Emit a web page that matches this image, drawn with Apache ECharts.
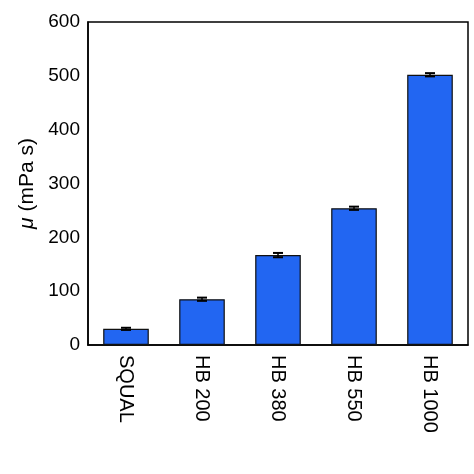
<!DOCTYPE html><html><head><meta charset="utf-8"><script src="https://cdn.jsdelivr.net/npm/echarts@6/dist/echarts.min.js"></script></head><body style="margin:0"><div id="c" style="width:474px;height:474px"></div><script>
const categories=['SQUAL','HB 200','HB 380','HB 550','HB 1000'];
const values=[30,85,167,254,502];
const errors=[2,3,4,3,3];
const yTicks=[0,100,200,300,400,500,600];
const ch=echarts.init(document.getElementById('c'));
const F='Liberation Sans';
ch.setOption({animation:false,
grid:{left:88,right:6,top:22,bottom:129,show:true,borderColor:'#000',borderWidth:1.5,backgroundColor:'transparent'},
xAxis:{type:'category',data:categories,axisLine:{lineStyle:{color:'#000',width:1.5}},
 axisTick:{inside:true,length:8,lineStyle:{color:'#000',width:1.5}},
 axisLabel:{rotate:-90,color:'#000',fontSize:20,fontFamily:F,margin:10}},
yAxis:[{type:'value',min:0,max:600,interval:100,
 axisLine:{show:true,lineStyle:{color:'#000',width:1.5}},
 axisTick:{inside:true,length:8,lineStyle:{color:'#000',width:1.5}},
 splitLine:{show:false},
 axisLabel:{color:'#000',fontSize:19,fontFamily:F,formatter:v=>yTicks.includes(v)?String(v):''},
 name:'{i|μ} (mPa s)',nameLocation:'middle',nameGap:50,
 nameTextStyle:{color:'#000',fontSize:21,fontFamily:F,rich:{i:{fontStyle:'italic',fontSize:21,fontFamily:F}}}},
{type:'value',min:0,max:600,interval:20,position:'left',axisLine:{show:false},
 axisTick:{inside:true,length:4,lineStyle:{color:'#000',width:1.2}},axisLabel:{show:false},splitLine:{show:false}}],
series:[{type:'bar',data:values,barWidth:'60%',itemStyle:{color:'#2266f2',borderColor:'#111',borderWidth:1.2}},
{type:'custom',data:values.map((v,i)=>[i,v-errors[i],v+errors[i]]),z:10,
 renderItem:(p,api)=>{const lo=api.coord([api.value(0),api.value(1)]),hi=api.coord([api.value(0),api.value(2)]);
 return {type:'group',children:[
 {type:'line',shape:{x1:lo[0],y1:lo[1],x2:hi[0],y2:hi[1]},style:{stroke:'#000',lineWidth:1.5}},
 {type:'line',shape:{x1:lo[0]-5,y1:lo[1],x2:lo[0]+5,y2:lo[1]},style:{stroke:'#000',lineWidth:2}},
 {type:'line',shape:{x1:hi[0]-5,y1:hi[1],x2:hi[0]+5,y2:hi[1]},style:{stroke:'#000',lineWidth:2}}]};}}]});
</script></body></html>
